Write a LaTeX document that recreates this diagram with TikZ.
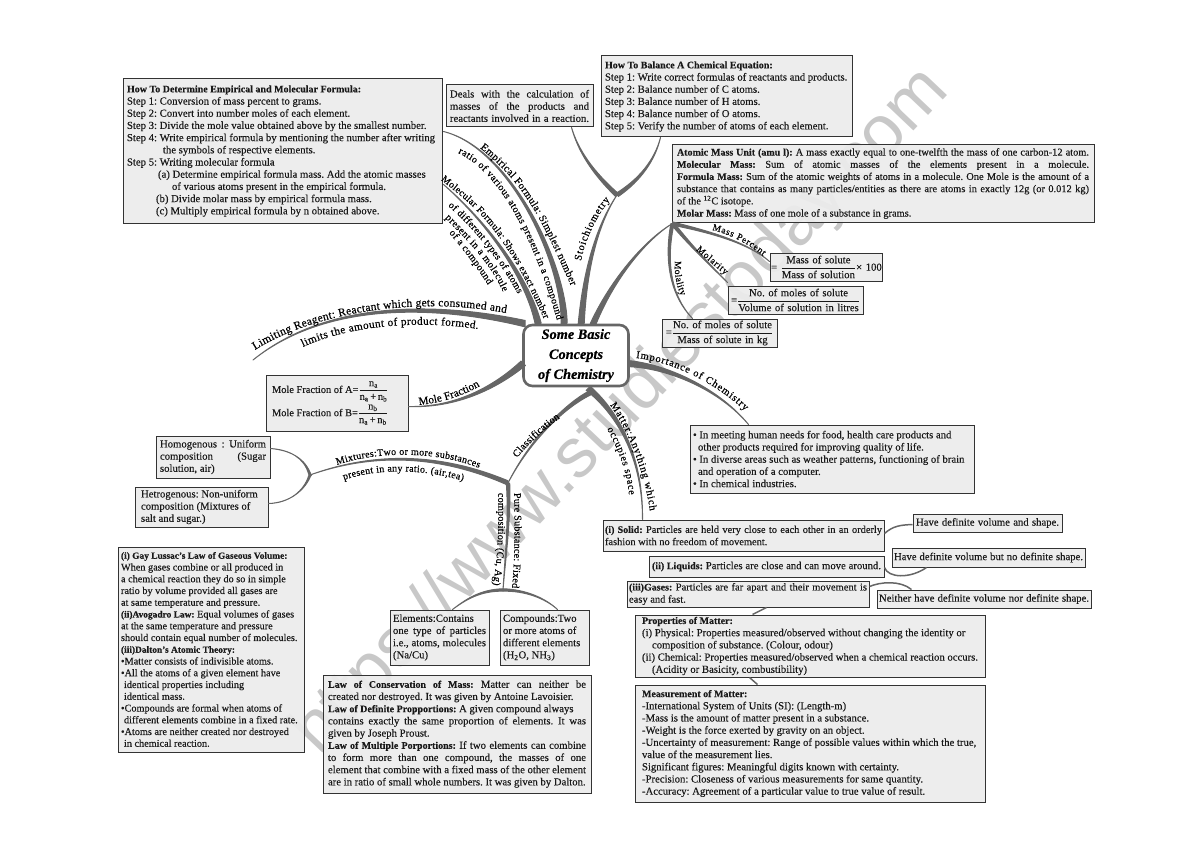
\documentclass[tikz,border=0pt]{standalone}
\usepackage{fontspec}
\setmainfont{Liberation Serif}[FakeBold=0.25]
\newfontfamily\wmfont{Liberation Sans}
\newfontfamily\titlefont{Liberation Serif}[FakeBold=0.6]
\usetikzlibrary{calc,decorations.text}
\definecolor{boxfill}{HTML}{ECECEC}
\definecolor{boxline}{HTML}{333333}
\definecolor{branchc}{HTML}{666666}
\definecolor{wmcol}{HTML}{C8C8C8}
\AtBeginDocument{\frenchspacing\hyphenpenalty=10000\exhyphenpenalty=10000}
\tikzset{
  tbox/.style={draw=boxline,fill=boxfill,fill opacity=.93,text opacity=1,line width=1pt,rectangle,inner xsep=4pt,inner ysep=0pt,align=flush left,text=black!90,
     font=\fontsize{10.7}{12.2}\selectfont},
  branch/.style={fill=branchc,draw=branchc,line width=1pt,line join=round},
  thinbranch/.style={draw=branchc,line width=1.5pt},
}
% box from its corners
\newcommand\bx[7][]{%
  \pgfmathsetmacro\bxw{#5-#3}\pgfmathsetmacro\bxh{#6-#4}%
  \pgfmathsetmacro\bxcx{(#3+#5)/2}\pgfmathsetmacro\bxcy{(#4+#6)/2}%
  \pgfmathsetmacro\bxt{\bxw-8}%
  \node[tbox,minimum width=\bxw pt,minimum height=\bxh pt,text width=\bxt pt,#1] (#2) at (\bxcx,\bxcy) {#7};}
% a tapered connector: thick end, control, control, thin end, half width
\newcommand\taper[5]{\fill[branch] ($(#1)+(#5)$) .. controls ($(#2)+0.6*(#5)$) and ($(#3)+0.2*(#5)$) .. (#4)
   .. controls ($(#3)-0.2*(#5)$) and ($(#2)-0.6*(#5)$) .. ($(#1)-(#5)$) -- cycle;}
% text on a curved baseline
\newcommand\lbl[3][10.4]{\path[decorate,decoration={text along path,text align={fit to path},
   text={|\fontsize{#1}{12}\selectfont|#3}}] #2;}
\newcommand\jl[1]{\makebox[\hsize][s]{\spaceskip=0pt\xspaceskip=0pt #1}}
\newcommand\hb[1]{\hbox{#1}}
\newcommand\hd[1]{{\fontsize{10}{12.2}\selectfont\bfseries #1}}
\begin{document}
\begin{tikzpicture}[x=1pt,y=-1pt]
\useasboundingbox (0,0) rectangle (1200,848);
% ---------- watermark, under everything
\node[anchor=base west,text=wmcol,rotate=46.5,inner sep=0pt,font=\wmfont\fontsize{70}{74}\selectfont] (wm) at (319,757) {https://www.studiestoday.com};
% ---------- boxes
\bx{emp}{123}{79}{442}{223}{\hd{How To Determine Empirical and Molecular Formula:}\\
Step 1: Conversion of mass percent to grams.\\
Step 2: Convert into number moles of each element.\\
Step 3: Divide the mole value obtained above by the smallest number.\\
Step 4: Write empirical formula by mentioning the number after writing\\
\hspace*{36pt}the symbols of respective elements.\\
Step 5: Writing molecular formula\\
\hspace*{31pt}(a) Determine empirical formula mass. Add the atomic masses\\
\hspace*{45pt}of various atoms present in the empirical formula.\\
\hspace*{29pt}(b) Divide molar mass by empirical formula mass.\\
\hspace*{29pt}(c) Multiply empirical formula by n obtained above.}
\bx{deals}{446}{85}{593}{127}{\jl{Deals with the calculation of}\\\jl{masses of the products and}\\\jl{reactants involved in a reaction.}}
\bx{bal}{601}{56}{852}{137}{\hd{How To Balance A Chemical Equation:}\\
Step 1: Write correct formulas of reactants and products.\\
Step 2: Balance number of C atoms.\\
Step 3: Balance number of H atoms.\\
Step 4: Balance number of O atoms.\\
Step 5: Verify the number of atoms of each element.}
\bx[inner xsep=5pt,text width=412pt,font=\fontsize{10.4}{12.2}\selectfont]{atom}{672}{145}{1094}{222}{\jl{\hd{Atomic Mass Unit (amu l):} A mass exactly equal to one-twelfth the mass of one carbon-12 atom.}\\
\jl{\hd{Molecular Mass:} Sum of atomic masses of the elements present in a molecule.}\\
\jl{\hd{Formula Mass:} Sum of the atomic weights of atoms in a molecule. One Mole is the amount of a}\\
\jl{substance that contains as many particles/entities as there are atoms in exactly 12g (or 0.012 kg)}\\
of the \textsuperscript{12}C isotope.\\
\hd{Molar Mass:} Mass of one mole of a substance in grams.}
\bx[align=center,inner xsep=1pt,text width=110pt]{mp}{770}{253}{882}{281}{$\hb{= }\displaystyle\frac{\hb{Mass of solute}}{\hb{Mass of solution}}\hb{× 100}$}
\bx[align=center,inner xsep=1pt,text width=133pt]{mol}{728}{286}{863}{314}{$\hb{=}\displaystyle\frac{\hb{No. of moles of solute}}{\hb{Volume of solution in litres}}$}
\bx[align=center,inner xsep=1pt,text width=113pt]{mll}{662}{319}{777}{347}{$\hb{=}\displaystyle\frac{\hb{No. of moles of solute}}{\hb{Mass of solute in kg}}$}
\bx[inner xsep=6pt,text width=130pt,font=\fontsize{10.4}{12}\selectfont]{mf}{266}{375}{408}{431}{Mole Fraction of A=$\displaystyle\frac{\hb{n\textsubscript{a}}}{\hb{n\textsubscript{a}\,+\,n\textsubscript{b}}}$\\[2pt]
Mole Fraction of B=$\displaystyle\frac{\hb{n\textsubscript{b}}}{\hb{n\textsubscript{a}\,+\,n\textsubscript{b}}}$}
\bx{homo}{156}{436}{270}{478}{\jl{Homogenous : Uniform}\\\jl{composition \ (Sugar}\\solution, air)}
\bx[inner xsep=6pt,text width=121pt]{het}{135}{487}{268}{527}{Hetrogenous: Non-uniform\\composition (Mixtures of\\salt and sugar.)}
\bx[inner xsep=3pt,text width=180pt,font=\fontsize{10.25}{11.75}\selectfont]{gay}{118}{547}{304}{752}{{\fontsize{9.4}{11.75}\selectfont\bfseries (i) Gay Lussac's Law of Gaseous Volume:}\\
When gases combine or all produced in\\
a chemical reaction they do so in simple\\
ratio by volume provided all gases are\\
at same temperature and pressure.\\
{\fontsize{9.4}{11.75}\selectfont\bfseries (ii)Avogadro Law:} Equal volumes of gases\\
at the same temperature and pressure\\
should contain equal number of molecules.\\
{\fontsize{9.4}{11.75}\selectfont\bfseries (iii)Dalton's Atomic Theory:}\\
•Matter consists of indivisible atoms.\\
•All the atoms of a given element have\\
\hspace*{3pt}identical properties including\\
\hspace*{3pt}identical mass.\\
•Compounds are formal when atoms of\\
\hspace*{3pt}different elements combine in a fixed rate.\\
•Atoms are neither created nor destroyed\\
\hspace*{3pt}in chemical reaction.}
\bx[inner xsep=3pt,text width=93pt]{elem}{390}{610}{489}{665}{\jl{Elements:Contains}\\\jl{one type of particles}\\\jl{i.e., atoms, molecules}\\(Na/Cu)}
\bx[inner xsep=3pt,text width=83pt]{comp}{500}{610}{589}{665}{Compounds:Two\\or more atoms of\\different elements\\(H\textsubscript{2}O, NH\textsubscript{3})}
\bx[inner xsep=5pt,text width=258pt]{law}{323}{675}{591}{793}{\jl{\hd{Law of Conservation of Mass:} Matter can neither be}\\
created nor destroyed. It was given by Antoine Lavoisier.\\
\hd{Law of Definite Propportions:} A given compound always\\
\jl{contains exactly the same proportion of elements. It was}\\
given by Joseph Proust.\\
\jl{\hd{Law of Multiple Porportions:} If two elements can combine}\\
\jl{to form more than one compound, the masses of one}\\
\jl{element that combine with a fixed mass of the other element}\\
are in ratio of small whole numbers. It was given by Dalton.}
\bx[inner xsep=3pt,text width=278pt]{imp}{690}{425}{974}{493}{• In meeting human needs for food, health care products and\\
\hspace*{5pt}other products required for improving quality of life.\\
• In diverse areas such as weather patterns, functioning of brain\\
\hspace*{5pt}and operation of a computer.\\
• In chemical industries.}
\bx[inner xsep=2pt,text width=277pt,font=\fontsize{10.4}{12.2}\selectfont]{sol}{603}{520}{884}{551}{\jl{\hd{(i) Solid:} Particles are held very close to each other in an orderly}\\fashion with no freedom of movement.}
\bx[inner xsep=3pt,text width=143pt]{h1}{913}{514}{1062}{532}{\jl{Have definite volume and shape.}}
\bx[inner xsep=3pt,text width=229pt]{liq}{649}{556}{884}{577}{\jl{\hd{(ii) Liquids:} Particles are close and can move around.}}
\bx[inner xsep=2pt,text width=189pt]{h2}{892}{548}{1085}{567}{\jl{Have definite volume but no definite shape.}}
\bx[inner xsep=2pt,text width=238pt,font=\fontsize{10.5}{12.2}\selectfont]{gas}{627}{581}{869}{607}{\jl{\hd{(iii)Gases:} Particles are far apart and their movement is}\\easy and fast.}
\bx[inner xsep=2pt,text width=210pt]{h3}{877}{590}{1091}{608}{\jl{Neither have definite volume nor definite shape.}}
\bx[inner xsep=7pt,text width=336pt]{prop}{635}{615}{985}{677}{\hd{Properties of Matter:}\\
(i) Physical: Properties measured/observed without changing the identity or\\
\hspace*{10pt}composition of substance. (Colour, odour)\\
(ii) Chemical: Properties measured/observed when a chemical reaction occurs.\\
\hspace*{10pt}(Acidity or Basicity, combustibility)}
\bx[inner xsep=7pt,text width=336pt]{meas}{635}{685}{985}{802}{\hd{Measurement of Matter:}\\
-International System of Units (SI): (Length-m)\\
-Mass is the amount of matter present in a substance.\\
-Weight is the force exerted by gravity on an object.\\
-Uncertainty of measurement: Range of possible values within which the true,\\
value of the measurement lies.\\
Significant figures: Meaningful digits known with certainty.\\
-Precision: Closeness of various measurements for same quantity.\\
-Accuracy: Agreement of a particular value to true value of result.}
% centre
\node[draw=branchc,line width=2.6pt,rounded corners=9pt,fill=white,minimum width=105pt,minimum height=61pt,inner sep=0pt,align=center,
  font=\titlefont\bfseries\itshape\fontsize{14.3}{20}\selectfont] (hub) at (576,355.5) {Some Basic\\Concepts\\of Chemistry};
% ---------- connection points, all taken from the nodes
\coordinate (hEmp) at ($(hub.north west)+(42,0)$);
\coordinate (hMol) at ($(hub.north west)+(16,0)$);
\coordinate (hSto) at ($(hub.north west)+(59,0)$);
\coordinate (hAto) at ($(hub.north west)+(71,0)$);
\coordinate (hLim) at ($(hub.north west)+(3,0)$);
\coordinate (hMF) at ($(hub.south west)+(1,-24)$);
\coordinate (hCla) at ($(hub.south west)+(69,5)$);
\coordinate (hMat) at ($(hub.south west)+(66,1)$);
\coordinate (hImp) at ($(hub.north east)+(0,40)$);
\coordinate (jSto) at (617,195);
\coordinate (jAto) at ($(atom.south west)+(1,1)$);
\coordinate (jCla) at (508,483);
\coordinate (jMix) at (310,475);
\coordinate (jPur) at (503,590);
\coordinate (limEnd) at (253,360);
\coordinate (eDeals) at ($(deals.south west)+(126,0)$);
\coordinate (eBal) at ($(bal.south west)+(60,0)$);
\coordinate (eEmp) at ($(emp.north east)+(1,53)$);
\coordinate (eMol) at ($(emp.north east)+(1,106)$);
\coordinate (eMP) at ($(mp.north west)+(0,9)$);
\coordinate (eMol2) at ($(mol.north west)+(0,-3)$);
\coordinate (eMll) at ($(mll.north west)+(31,0)$);
\coordinate (eMF) at ($(mf.north east)+(0,32)$);
\coordinate (eHom) at ($(homo.north east)+(0,13)$);
\coordinate (eHet) at ($(het.north east)+(0,17)$);
\coordinate (eEl) at ($(elem.north west)+(63,0)$);
\coordinate (eCo) at ($(comp.north west)+(58,0)$);
\coordinate (eImp) at ($(imp.north west)+(59,0)$);
\coordinate (eSol) at ($(sol.north west)+(40,0)$);
% ---------- connectors
\taper{hSto}{585,270}{597,225}{jSto}{3,0}
\taper{jSto}{592,172}{578,150}{eDeals}{1.4,-1.4}
\taper{jSto}{640,180}{655,160}{eBal}{1.4,1.4}
\taper{hEmp}{564,262}{510,148}{eEmp}{3,-.5}
\taper{hMol}{528,280}{490,225}{eMol}{3,-.5}
\taper{hLim}{457,308}{335,294}{limEnd}{0,3.2}
\taper{hMF}{495,388}{455,408}{eMF}{2.2,2.2}
\taper{hCla}{565,405}{530,440}{jCla}{1.6,1.6}
\taper{jCla}{443,455}{377,451}{jMix}{0,2.2}
\taper{jMix}{305,458}{290,450}{eHom}{1.3,.7}
\taper{jMix}{305,490}{290,503}{eHet}{1.3,-.7}
\taper{jCla}{510,520}{505,560}{jPur}{1.7,0}
\taper{jPur}{480,590}{465,600}{eEl}{0,1.2}
\taper{jPur}{525,590}{545,598}{eCo}{0,1.2}
\taper{hMat}{620,415}{643,460}{eSol}{2,-2}
\taper{hImp}{670,367}{720,390}{eImp}{0,3}
\taper{hAto}{612,280}{645,240}{jAto}{3,0}
\taper{jAto}{700,230}{745,240}{eMP}{0,1.6}
\taper{jAto}{690,245}{710,265}{eMol2}{1.2,-1.2}
\taper{jAto}{665,260}{670,295}{eMll}{1.6,0}
\draw[thinbranch] ($(sol.north east)+(0,14)$) .. controls (893,526) and (900,525) .. ($(h1.north west)+(0,11)$);
\draw[thinbranch] ($(liq.north east)+(0,12)$) .. controls (888,578) and (910,579) .. ($(h2.south west)+(35,0)$);
\draw[thinbranch] ($(gas.north east)+(0,6)$) .. controls (880,582) and (900,580) .. ($(h3.north west)+(35,0)$);
\draw[thinbranch] ($(gas.south west)+(140,0)$) -- ($(prop.north west)+(118,0)$);
\draw[thinbranch] ($(prop.south west)+(115,0)$) -- ($(meas.north west)+(123,0)$);
% ---------- labels along the branches
\lbl{(480,148) .. controls (526,185) and (543,222) .. (571,286)}{Empirical Formula: Simplest number}
\lbl[10]{(458,153) .. controls (510,177) and (543,270) .. (557,320)}{ratio of various atoms present in a compound}
\lbl[9.8]{(441,180) .. controls (477,208) and (505,231) .. (544,319)}{Molecular Formula: Shows exact number}
\lbl[9.8]{(448,206) .. controls (472,226) and (498,258) .. (518,294)}{of different types of atoms}
\lbl[10]{(445,218) .. controls (465,238) and (490,262) .. (503,292)}{present in a molecule}
\lbl[10]{(449,233) .. controls (462,248) and (476,266) .. (488,285)}{of a compound}
\lbl{(581,261) .. controls (585,240) and (597,215) .. (610,200)}{Stoichiometry}
\lbl[11.5]{(255,350) .. controls (310,315) and (410,295) .. (506,313)}{Limiting Reagent: Reactant which gets consumed and}
\lbl[11.2]{(303,347) .. controls (350,325) and (420,320) .. (478,329)}{limits the amount of product formed.}
\lbl[11.2]{(419,405) .. controls (440,403) and (460,397) .. (480,386)}{Mole Fraction}
\lbl[10.2]{(517,458) .. controls (530,442) and (545,429) .. (560,418)}{Classification}
\lbl[10]{(337,465) .. controls (380,450) and (440,452) .. (479,468)}{Mixtures:Two or more substances}
\lbl[10]{(344,480) .. controls (380,467) and (430,470) .. (463,481)}{present in any ratio. (air,tea)}
\lbl[10.2]{(514,493) .. controls (515,520) and (515,560) .. (512,588)}{Pure Substance: Fixed}
\lbl[10.2]{(498,493) .. controls (499,520) and (498,560) .. (493,585)}{composition (Cu, Ag)}
\lbl{(610,405) .. controls (628,430) and (644,470) .. (650,511)}{Matter:Anything which}
\lbl[10.2]{(607,429) .. controls (617,447) and (627,470) .. (629,495)}{occupies space}
\lbl{(636,358) .. controls (675,362) and (718,385) .. (745,411)}{Importance of Chemistry}
\lbl[9.5]{(712,230) .. controls (729,234) and (749,244) .. (763,256)}{Mass Percent}
\lbl[9.5]{(696,250) .. controls (705,258) and (716,267) .. (725,275)}{Molarity}
\lbl[9.5]{(675,261) .. controls (674,272) and (676,285) .. (681,296)}{Molality}
\end{tikzpicture}
\end{document}
